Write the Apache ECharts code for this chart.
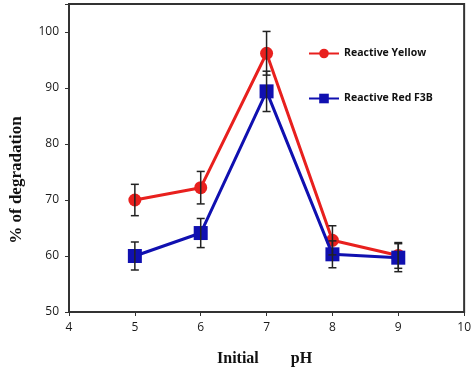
<!DOCTYPE html>
<html><head><meta charset="utf-8">
<script src="https://cdn.jsdelivr.net/npm/echarts@6/dist/echarts.min.js"></script>
<style>html,body{margin:0;padding:0;background:#fff}#c{width:474px;height:372px}</style>
</head><body><div id="c"></div>
<script>
var pH = [5, 6, 7, 8, 9];
var yellow = [70.0, 72.2, 96.2, 62.8, 60.1];
var yellowErr = [2.8, 2.9, 3.9, 2.6, 2.3];
var red = [60.0, 64.1, 89.4, 60.3, 59.7];
var redErr = [2.5, 2.6, 3.6, 2.4, 2.5];
var seriesNames = ['Reactive Yellow', 'Reactive Red F3B'];

function pairs(xs, ys){ return xs.map(function(x,i){return [x, ys[i]];}); }
function errData(xs, ys, es){ return xs.map(function(x,i){return [x, ys[i]-es[i], ys[i]+es[i]];}); }
function errSeries(data, z){
  return {
    type: 'custom', z: z, silent: true,
    renderItem: function(params, api){
      var x = api.value(0);
      var lo = api.coord([x, api.value(1)]);
      var hi = api.coord([x, api.value(2)]);
      var w = 4, st = {stroke: '#222', lineWidth: 1.5};
      return {type: 'group', children: [
        {type: 'line', shape: {x1: lo[0], y1: lo[1], x2: hi[0], y2: hi[1]}, style: st},
        {type: 'line', shape: {x1: lo[0]-w, y1: lo[1], x2: lo[0]+w, y2: lo[1]}, style: st},
        {type: 'line', shape: {x1: hi[0]-w, y1: hi[1], x2: hi[0]+w, y2: hi[1]}, style: st}
      ]};
    },
    encode: {x: 0, y: [1, 2]},
    data: data
  };
}

var chart = echarts.init(document.getElementById('c'));
chart.setOption({
  animation: false,
  grid: {left: 62, top: 4, right: 9, bottom: 59, show: true, borderColor: '#333', borderWidth: 2},
  legend: {
    orient: 'vertical', left: 303, top: 43, itemGap: 34, itemWidth: 30, itemHeight: 12,
    data: seriesNames,
    textStyle: {fontFamily: 'Open Sans', fontWeight: 'bold', fontSize: 10.5, color: '#111'}
  },
  xAxis: {
    type: 'value', min: 4, max: 10, interval: 1,
    name: 'Initial        pH', nameLocation: 'middle', nameGap: 39,
    nameTextStyle: {fontFamily: 'Liberation Serif', fontWeight: 'bold', fontSize: 16, color: '#111',
      padding: [0, 4, 0, 0]},
    axisLine: {lineStyle: {color: '#333', width: 2}},
    axisTick: {show: true, length: 4, lineStyle: {color: '#333'}},
    axisLabel: {fontFamily: 'Open Sans', fontSize: 12, color: '#1a1a1a', margin: 10},
    splitLine: {show: false}
  },
  yAxis: {
    type: 'value', min: 50, max: 105, interval: 10,
    name: '% of degradation', nameLocation: 'middle', nameGap: 44, nameRotate: 90,
    nameTextStyle: {fontFamily: 'Liberation Serif', fontWeight: 'bold', fontSize: 17, color: '#111',
      padding: [0, 44, 0, 0]},
    axisLine: {show: true, lineStyle: {color: '#333', width: 2}},
    axisTick: {show: true, length: 4, lineStyle: {color: '#333'}},
    axisLabel: {fontFamily: 'Open Sans', fontSize: 12, color: '#1a1a1a', margin: 10,
      formatter: function(v){ return v > 100 ? '' : String(v); }},
    splitLine: {show: false}
  },
  series: [
    {name: seriesNames[0], type: 'line', data: pairs(pH, yellow), symbol: 'circle', symbolSize: 13,
     lineStyle: {color: '#e8201e', width: 3}, itemStyle: {color: '#e8201e'}, z: 3},
    {name: seriesNames[1], type: 'line', data: pairs(pH, red), symbol: 'rect', symbolSize: 14,
     lineStyle: {color: '#1010b0', width: 3}, itemStyle: {color: '#1010b0'}, z: 4},
    errSeries(errData(pH, yellow, yellowErr), 5),
    errSeries(errData(pH, red, redErr), 6)
  ]
});
</script></body></html>
